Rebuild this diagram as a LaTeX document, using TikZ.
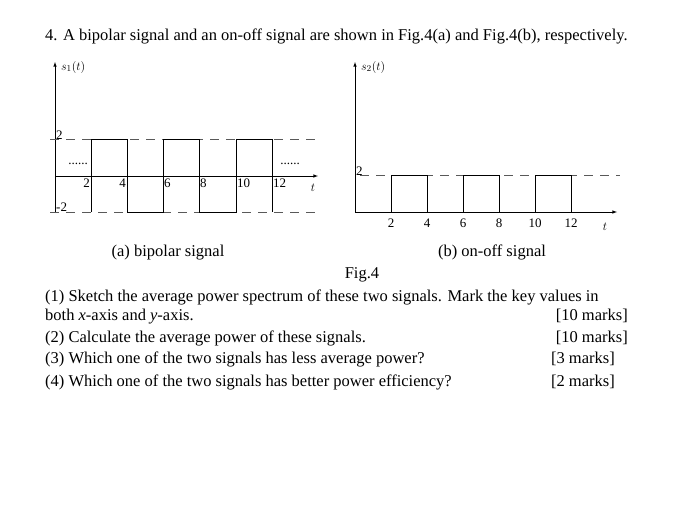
\documentclass[tikz,border=0pt]{standalone}
\usepackage{fontspec}
\setmainfont{Liberation Serif}
\begin{document}
\begin{tikzpicture}[x=1pt,y=-1pt,
  txt/.style={inner sep=0pt,anchor=base west,font=\fontsize{16.5}{19}\selectfont},
  lab/.style={inner sep=1pt,font=\fontsize{13}{15}\selectfont},
  axis/.style={line width=0.6pt,-latex},
  dashline/.style={line width=0.6pt,dash pattern=on 9pt off 7pt,gray!70!black},
  sig/.style={line width=0.6pt}]
\useasboundingbox (0,0) rectangle (700,507);
\node[txt] (title) at (45,40) {4. A bipolar signal and an on-off signal are shown in Fig.4(a) and Fig.4(b), respectively.};
% left plot
\coordinate (o1) at (55,176);
\draw[axis] (55,213) -- (55,62) coordinate (y1);
\node[lab,anchor=west] (s1) at (60,67) {$s_1(t)$};
\draw[axis] (o1) -- (318,176) coordinate (x1);
\draw[dashline] (50,139) -- (320,139);
\draw[dashline] (50,212) -- (320,212);
\node[lab,anchor=south west] at (55,141) {2};
\node[lab,anchor=south west] at (55,213) {-2};
\node[lab] at (78,164) {......};
\node[lab] at (290,164) {......};
\draw[sig] (91,212) -- (91,139) -- (127,139) -- (127,212) -- (163,212) -- (163,139) -- (199,139) -- (199,212) -- (236,212) -- (236,139) -- (272,139) -- (272,212);
\foreach \x/\t in {91/2,127/4}{\node[lab,anchor=north east] at (\x,178) {\t};}
\foreach \x/\t in {163/6,199/8,236/10,272/12}{\node[lab,anchor=north west] at (\x,178) {\t};}
\node[lab] at (313,188) {$t$};
% right plot
\coordinate (o2) at (355,212);
\draw[axis] (o2) -- (355,62);
\node[lab,anchor=west] (s2) at (360,67) {$s_2(t)$};
\draw[axis] (o2) -- (617,212);
\draw[dashline] (360,175) -- (620,175);
\node[lab,anchor=south west] at (355,177) {2};
\foreach \a/\b in {391/427,463/499,535/571}{\draw[sig] (\a,212) -- (\a,175) -- (\b,175) -- (\b,212);}
\foreach \x/\t in {391/2,427/4,463/6,499/8,535/10,571/12}{\node[lab] at (\x,223) {\t};}
\node[lab] at (605,227) {$t$};
% captions
\node[txt,anchor=base] at (168,256) {(a) bipolar signal};
\node[txt,anchor=base] at (492,256) {(b) on-off signal};
\node[txt,anchor=base] at (362,278) {Fig.4};
\node[txt] at (45,301) {(1) Sketch the average power spectrum of these two signals. Mark the key values in};
\node[txt] at (45,320) {both \textit{x}-axis and \textit{y}-axis.};
\node[txt,anchor=base east] at (628,320) {[10 marks]};
\node[txt] at (45,342) {(2) Calculate the average power of these signals.};
\node[txt,anchor=base east] at (628,342) {[10 marks]};
\node[txt] at (45,363) {(3) Which one of the two signals has less average power?};
\node[txt,anchor=base east] at (615,363) {[3 marks]};
\node[txt] at (45,386) {(4) Which one of the two signals has better power efficiency?};
\node[txt,anchor=base east] at (615,386) {[2 marks]};
\end{tikzpicture}
\end{document}
